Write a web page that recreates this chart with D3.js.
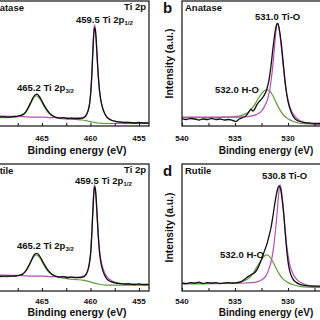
<!DOCTYPE html>
<html>
<head>
<meta charset="utf-8">
<script src="https://cdn.jsdelivr.net/npm/d3@7"></script>
<style>
  html, body { margin: 0; padding: 0; background: #fff; }
  svg { display: block; }
  text { font-family: "Liberation Sans", Arial, sans-serif; font-weight: bold; fill: #111; }
</style>
</head>
<body>
<svg id="chart" width="320" height="320"></svg>
<script>
/* XPS spectra, 2x2: Ti 2p and O 1s for anatase / rutile.
   Each series is [binding energy (eV), intensity (a.u.)]. */

// --- a: anatase Ti 2p ---
const aMeasured = [
  [471, 7.1], [470, 6.7], [469.5, 7.1], [469, 7.5], [468.5, 7.1], [468, 7.5], [467.5, 7.9],
  [467, 9.1], [466.7, 11.1], [466.4, 15.1], [466.1, 19.8], [465.9, 23.0], [465.7, 25.0],
  [465.5, 25.4], [465.3, 23.8], [465.1, 21.4], [464.9, 18.3], [464.6, 14.3], [464.3, 11.1],
  [464.0, 8.7], [463.6, 7.1], [463.2, 6.3], [462.8, 6.7], [462.4, 6.0], [462.0, 6.3],
  [461.6, 6.0], [461.2, 6.0], [460.8, 6.3], [460.5, 7.9], [460.3, 11.1], [460.1, 17.5],
  [459.95, 28.6], [459.85, 42.9], [459.75, 60.3], [459.65, 74.6], [459.58, 78.6], [459.5, 77.0],
  [459.42, 69.8], [459.32, 56.3], [459.2, 40.5], [459.05, 27.0], [458.85, 17.5], [458.6, 11.1],
  [458.3, 7.1], [457.9, 4.8], [457.4, 3.6], [457, 3.2], [456.5, 2.8], [456, 2.8], [455.5, 2.4],
  [455, 2.8], [454.5, 2.4], [454, 2.4]
];
const aTi2pMain = [
  [471, 7.9], [469, 7.9], [467, 7.5], [466, 7.1], [465, 7.1], [464, 6.7], [463, 6.7], [462, 6.3],
  [461.2, 6.3], [460.7, 7.1], [460.4, 9.5], [460.2, 13.5], [460.05, 20.6], [459.95, 30.2],
  [459.85, 44.4], [459.75, 61.9], [459.66, 76.2], [459.6, 81.0], [459.53, 79.4], [459.45, 73.0],
  [459.35, 58.7], [459.22, 42.1], [459.08, 28.6], [458.9, 19.0], [458.65, 11.9], [458.35, 7.5],
  [458, 5.2], [457.5, 4.0], [457, 3.2], [456, 2.8], [455, 2.4], [454, 2.4]
];
const aTi2pSide = [
  [471, 6.7], [469, 6.7], [468, 7.1], [467.5, 7.5], [467, 8.7], [466.7, 10.7], [466.4, 14.3],
  [466.1, 19.0], [465.85, 22.6], [465.6, 24.2], [465.35, 23.0], [465.1, 20.2], [464.85, 16.7],
  [464.55, 12.7], [464.2, 9.5], [463.8, 7.5], [463.3, 6.3], [462.5, 5.6], [461.5, 5.2],
  [460.8, 4.8], [460.3, 4.0], [459.8, 3.2], [459.2, 2.4], [458.5, 2.0], [457, 2.0], [454, 2.0]
];

// --- b: anatase O 1s ---
const bMeasured = [
  [540, 6.0], [539.6, 5.2], [539.2, 6.0], [538.8, 5.6], [538.4, 4.8], [538.0, 5.6], [537.6, 5.2],
  [537.2, 6.0], [536.8, 5.2], [536.4, 5.6], [536.0, 4.8], [535.6, 5.2], [535.2, 4.4], [534.9, 3.6],
  [534.6, 5.6], [534.3, 6.7], [534.0, 7.9], [533.7, 11.1], [533.5, 13.5], [533.3, 11.9],
  [533.1, 14.3], [532.9, 17.5], [532.6, 20.6], [532.3, 23.8], [532.0, 29.4], [531.8, 36.5],
  [531.6, 48.4], [531.4, 63.5], [531.2, 76.2], [531.05, 81.7], [530.95, 81.7], [530.8, 76.2],
  [530.6, 63.5], [530.4, 46.0], [530.2, 30.2], [530.0, 19.8], [529.7, 11.1], [529.4, 6.3],
  [529.0, 4.0], [528.5, 2.8], [528.0, 2.4], [527.5, 2.0], [527.0, 2.0], [526.0, 1.6], [525.0, 1.6]
];
const bTiO = [
  [540, 7.1], [537, 7.1], [535, 7.1], [534, 7.5], [533.5, 7.9], [533, 9.1], [532.5, 11.9],
  [532.2, 15.9], [531.9, 22.2], [531.7, 30.2], [531.5, 42.9], [531.3, 60.3], [531.15, 74.6],
  [531.0, 82.5], [530.85, 78.6], [530.7, 68.3], [530.5, 52.4], [530.3, 36.5], [530.1, 24.6],
  [529.85, 15.9], [529.5, 9.5], [529.1, 5.6], [528.6, 3.2], [528.0, 2.0], [527.0, 1.2], [525.0, 0.8]
];
const bHO = [
  [540, 6.7], [537, 6.7], [536, 7.1], [535, 7.5], [534.3, 8.7], [533.8, 10.7], [533.3, 15.1],
  [532.9, 20.6], [532.6, 24.6], [532.3, 27.8], [532.0, 29.0], [531.7, 27.8], [531.4, 23.8],
  [531.1, 18.3], [530.8, 13.5], [530.5, 9.5], [530.1, 6.3], [529.6, 4.0], [529.0, 2.4],
  [528.0, 1.6], [525.0, 1.2]
];

// --- c: rutile Ti 2p ---
const cMeasured = [
  [471, 11.7], [470, 11.3], [469, 11.7], [468, 11.7], [467.5, 12.1], [467, 13.3], [466.7, 15.6],
  [466.4, 19.5], [466.1, 24.2], [465.9, 27.3], [465.7, 29.3], [465.5, 29.7], [465.3, 28.1],
  [465.1, 25.8], [464.9, 22.7], [464.6, 18.8], [464.3, 15.6], [464.0, 13.3], [463.6, 11.7],
  [463.2, 10.9], [462.8, 11.3], [462.4, 10.5], [462.0, 10.9], [461.6, 10.5], [461.2, 10.5],
  [460.8, 10.9], [460.5, 12.5], [460.3, 15.6], [460.1, 22.7], [459.95, 32.8], [459.85, 46.9],
  [459.75, 63.3], [459.65, 77.3], [459.58, 82.0], [459.5, 80.5], [459.42, 73.4], [459.32, 60.2],
  [459.2, 43.8], [459.05, 28.9], [458.85, 19.5], [458.6, 13.3], [458.3, 9.4], [457.9, 7.4],
  [457.4, 6.3], [457, 5.9], [456.5, 5.5], [456, 5.5], [455.5, 5.1], [455, 5.5], [454.5, 5.1],
  [454, 5.1]
];
const cTi2pMain = [
  [471, 12.5], [469, 12.5], [467, 12.1], [466, 11.7], [465, 11.7], [464, 11.3], [463, 11.3],
  [462, 10.9], [461.2, 10.9], [460.7, 11.7], [460.4, 14.1], [460.2, 18.0], [460.05, 25.0],
  [459.95, 34.4], [459.85, 48.4], [459.75, 65.6], [459.66, 79.7], [459.6, 83.6], [459.53, 82.0],
  [459.45, 75.8], [459.35, 62.5], [459.22, 46.1], [459.08, 32.8], [458.9, 23.4], [458.65, 16.4],
  [458.35, 11.7], [458, 9.0], [457.5, 7.0], [457, 5.9], [456, 5.5], [455, 5.1], [454, 5.1]
];
const cTi2pSide = [
  [471, 11.3], [469, 11.3], [468, 11.7], [467.5, 12.1], [467, 13.3], [466.7, 15.2], [466.4, 18.8],
  [466.1, 23.4], [465.85, 27.0], [465.6, 28.5], [465.35, 27.3], [465.1, 24.6], [464.85, 21.1],
  [464.55, 17.2], [464.2, 14.1], [463.8, 12.1], [463.3, 10.9], [462.5, 9.8], [461.5, 9.0],
  [460.8, 8.6], [460.3, 7.8], [459.8, 6.6], [459.2, 5.5], [458.5, 4.7], [457, 4.7], [454, 4.7]
];

// --- d: rutile O 1s ---
const dMeasured = [
  [540, 6.3], [539.6, 5.9], [539.2, 6.6], [538.8, 6.3], [538.4, 7.0], [538.0, 5.9], [537.6, 6.6],
  [537.2, 6.3], [536.8, 6.6], [536.4, 5.9], [536.0, 6.3], [535.6, 6.6], [535.2, 6.3], [534.8, 6.6],
  [534.4, 7.4], [534.0, 9.8], [533.7, 11.7], [533.4, 13.3], [533.1, 14.8], [532.8, 18.8],
  [532.5, 25.0], [532.2, 32.0], [532.0, 36.7], [531.8, 43.0], [531.6, 50.0], [531.4, 60.2],
  [531.2, 71.1], [531.0, 79.7], [530.85, 82.8], [530.7, 80.5], [530.55, 71.9], [530.4, 60.2],
  [530.25, 44.5], [530.1, 30.5], [529.95, 20.3], [529.75, 13.3], [529.5, 9.0], [529.2, 6.6],
  [528.8, 5.1], [528.3, 4.3], [527.5, 3.9], [526.5, 3.9], [525, 3.9]
];
const dTiO = [
  [540, 5.9], [536, 5.9], [534, 6.3], [533, 7.0], [532.5, 8.6], [532.1, 11.7], [531.8, 17.2],
  [531.5, 26.6], [531.3, 38.3], [531.1, 54.7], [530.95, 69.5], [530.82, 81.3], [530.75, 83.6],
  [530.65, 80.5], [530.5, 70.3], [530.3, 51.6], [530.1, 34.4], [529.9, 23.4], [529.6, 14.8],
  [529.2, 9.4], [528.7, 6.3], [528.0, 4.3], [527.0, 3.5], [525.0, 3.1]
];
const dHO = [
  [540, 5.5], [536, 5.9], [535, 6.3], [534.3, 7.4], [533.8, 9.4], [533.3, 13.7], [532.9, 19.5],
  [532.5, 24.6], [532.2, 27.7], [532.0, 28.5], [531.75, 27.3], [531.45, 23.4], [531.15, 18.4],
  [530.85, 13.7], [530.5, 9.8], [530.1, 7.0], [529.6, 5.1], [529.0, 3.9], [528.0, 3.1], [525.0, 2.7]
];

const ti2pTicks = [470, 467.5, 465, 462.5, 460, 457.5, 455];
const ti2pTickLabels = [465, 460, 455];
const o1sTicks = [540, 537.5, 535, 532.5, 530, 527.5, 525];
const o1sTickLabels = [540, 535, 530];

const COLORS = { data: "#111", main: "#b84fb4", side: "#5f9a3f" };

// panel layout (pixels); left panels are cut off at the image edge
const panels = [
  { letter: null, x0: -16, x1: 149, y0: 1, y1: 126, xDom: [465, 455], xRng: [42, 139],
    ticks: ti2pTicks, tickLabels: ti2pTickLabels, series: [aTi2pSide, aTi2pMain, aMeasured],
    phase: "Anatase", corner: "Ti 2p", xlabelSize: 10.5, xlabelX: 77, tickDy: 15, xlabelDy: 28,
    notes: [
      { t: "459.5 Ti 2p", sub: "1/2", x: 76, y: 22.5 },
      { t: "465.2 Ti 2p", sub: "3/2", x: 17, y: 90.5 }
    ] },
  { letter: "b", x0: 182, x1: 345, y0: 1, y1: 126, xDom: [540, 530], xRng: [182, 288],
    ticks: o1sTicks, tickLabels: o1sTickLabels, series: [bHO, bTiO, bMeasured],
    phase: "Anatase", corner: null, xlabelSize: 10, xlabelX: 266, tickDy: 15, xlabelDy: 28,
    notes: [
      { t: "531.0 Ti-O", x: 255, y: 19.5 },
      { t: "532.0 H-O", x: 215, y: 92.5 }
    ] },
  { letter: null, x0: -16, x1: 149, y0: 164, y1: 291, xDom: [465, 455], xRng: [42, 139],
    ticks: ti2pTicks, tickLabels: ti2pTickLabels, series: [cTi2pSide, cTi2pMain, cMeasured],
    phase: "Rutile", corner: "Ti 2p", xlabelSize: 10.5, xlabelX: 77, tickDy: 13, xlabelDy: 25,
    notes: [
      { t: "459.5 Ti 2p", sub: "1/2", x: 75, y: 184 },
      { t: "465.2 Ti 2p", sub: "3/2", x: 17, y: 248.5 }
    ] },
  { letter: "d", x0: 182, x1: 345, y0: 164, y1: 291, xDom: [540, 530], xRng: [182, 288],
    ticks: o1sTicks, tickLabels: o1sTickLabels, series: [dHO, dTiO, dMeasured],
    phase: "Rutile", corner: null, xlabelSize: 10, xlabelX: 266, tickDy: 13, xlabelDy: 25,
    notes: [
      { t: "530.8 Ti-O", x: 262, y: 179 },
      { t: "532.0 H-O", x: 220, y: 257.5 }
    ] }
];

const svg = d3.select("#chart");
const seriesColors = [COLORS.side, COLORS.main, COLORS.data];

panels.forEach((p, i) => {
  const g = svg.append("g");
  const x = d3.scaleLinear().domain(p.xDom).range(p.xRng);
  const y = d3.scaleLinear().domain([0, 100]).range([p.y1, p.y0]);

  const clipId = "clip" + i;
  svg.append("clipPath").attr("id", clipId).append("rect")
    .attr("x", p.x0).attr("y", p.y0).attr("width", p.x1 - p.x0).attr("height", p.y1 - p.y0);

  const line = d3.line().x(d => x(d[0])).y(d => y(d[1])).curve(d3.curveMonotoneX);
  const plot = g.append("g").attr("clip-path", `url(#${clipId})`);
  p.series.forEach((s, k) => {
    plot.append("path")
      .datum(s.slice().sort((m, n) => n[0] - m[0]))
      .attr("d", line)
      .attr("fill", "none")
      .attr("stroke", seriesColors[k])
      .attr("stroke-width", k === 2 ? 1.3 : 1.2)
      .attr("stroke-linejoin", "round");
  });

  // frame
  g.append("rect")
    .attr("x", p.x0).attr("y", p.y0)
    .attr("width", p.x1 - p.x0).attr("height", p.y1 - p.y0)
    .attr("fill", "none").attr("stroke", "#222").attr("stroke-width", 1.3);

  // inward ticks on the bottom axis
  const axis = d3.axisBottom(x).tickValues(p.ticks).tickSize(-3).tickFormat("");
  const ag = g.append("g").attr("transform", `translate(0,${p.y1})`).call(axis);
  ag.select(".domain").remove();
  ag.selectAll(".tick line").attr("stroke", "#222").attr("stroke-width", 1.1);

  g.selectAll(".ticklabel").data(p.tickLabels).join("text")
    .attr("x", d => x(d)).attr("y", p.y1 + p.tickDy)
    .attr("text-anchor", "middle").attr("font-size", 8).text(d => d);

  g.append("text")
    .attr("x", p.xlabelX)
    .attr("y", p.y1 + p.xlabelDy)
    .attr("text-anchor", "middle").attr("font-size", p.xlabelSize)
    .text("Binding energy (eV)");

  g.append("text").attr("x", p.x0 + 3).attr("y", p.y0 + 9.5)
    .attr("font-size", 9.5).text(p.phase);

  if (p.corner) {
    g.append("text").attr("x", p.x1 - 3).attr("y", p.y0 + 9)
      .attr("text-anchor", "end").attr("font-size", 9.5).text(p.corner);
  }

  p.notes.forEach(n => {
    const t = g.append("text").attr("x", n.x).attr("y", n.y).attr("font-size", 9.5).text(n.t);
    if (n.sub) t.append("tspan").attr("font-size", 6).attr("dy", 2).text(n.sub);
  });

  if (p.letter) {
    g.append("text").attr("x", p.x0 - 19).attr("y", p.y0 + 11.7)
      .attr("font-size", 15).text(p.letter);
    g.append("text")
      .attr("transform", `translate(${p.x0 - 13},${(p.y0 + p.y1) / 2}) rotate(-90)`)
      .attr("text-anchor", "middle").attr("dy", "0.35em").attr("font-size", 10.3)
      .text("Intensity (a.u.)");
  }
});
</script>
</body>
</html>
